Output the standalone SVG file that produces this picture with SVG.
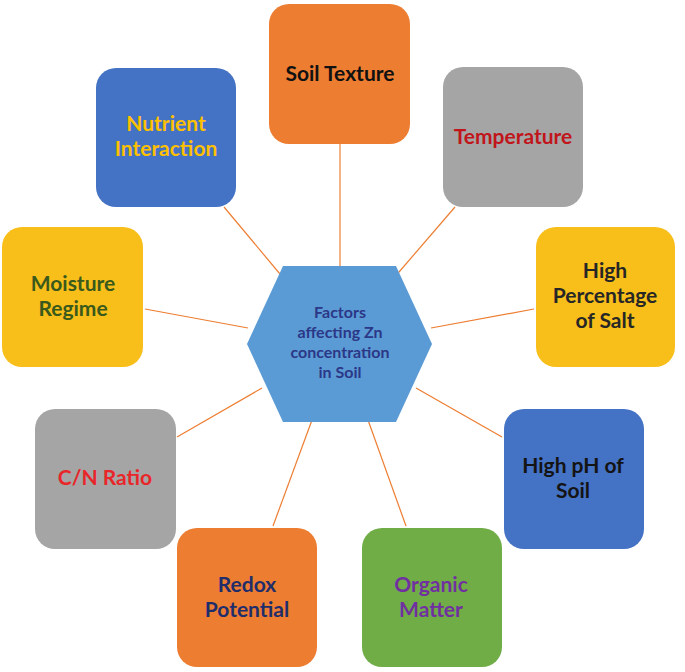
<svg xmlns="http://www.w3.org/2000/svg" width="685" height="672" viewBox="0 0 685 672">
<style>
text{font-family:Lato,"Open Sans","Liberation Sans",sans-serif;font-weight:bold;text-anchor:middle}
.lbl{font-size:21px}
.hx{font-size:16px;fill:#2B3787}
.con line{stroke:#ED7D31;stroke-width:1.2}
</style>
<rect width="685" height="672" fill="#fff"/>
<g id="connectors" class="con">
<line x1="340" y1="144" x2="340" y2="266"/>
<line x1="224" y1="207" x2="285" y2="280"/>
<line x1="455" y1="207" x2="393" y2="279"/>
<line x1="145" y1="309" x2="248" y2="328"/>
<line x1="534" y1="309" x2="431" y2="328"/>
<line x1="177" y1="437" x2="262" y2="388"/>
<line x1="416" y1="388" x2="502" y2="437"/>
<line x1="312" y1="420" x2="273" y2="526"/>
<line x1="368" y1="420" x2="406" y2="526"/>
</g>
<g id="center">
<polygon points="283,266 396,266 432,344 396,422 283,422 247,344" fill="#5B9BD5"/>
<text class="hx" x="340" y="318">Factors</text>
<text class="hx" x="340" y="338">affecting Zn</text>
<text class="hx" x="340" y="358">concentration</text>
<text class="hx" x="340" y="378">in Soil</text>
</g>
<g id="soil-texture">
<rect x="269" y="4" width="141" height="140" rx="20" fill="#ED7D31"/>
<text class="lbl" x="340" y="81" fill="#111">Soil Texture</text>
</g>
<g id="nutrient-interaction">
<rect x="96" y="68" width="140" height="139" rx="20" fill="#4472C4"/>
<text class="lbl" x="166" y="131" fill="#FFC000">Nutrient</text>
<text class="lbl" x="166" y="156" fill="#FFC000">Interaction</text>
</g>
<g id="temperature">
<rect x="443" y="67" width="140" height="140" rx="20" fill="#A5A5A5"/>
<text class="lbl" x="513" y="144" fill="#C0161B">Temperature</text>
</g>
<g id="moisture-regime">
<rect x="2" y="227" width="141" height="140" rx="20" fill="#F8BE1A"/>
<text class="lbl" x="73" y="291" fill="#3A5A1C">Moisture</text>
<text class="lbl" x="73" y="316" fill="#3A5A1C">Regime</text>
</g>
<g id="high-percentage-salt">
<rect x="536" y="227" width="139" height="140" rx="20" fill="#F8BE1A"/>
<text class="lbl" x="605" y="278" fill="#262626">High</text>
<text class="lbl" x="605" y="303" fill="#262626">Percentage</text>
<text class="lbl" x="605" y="328" fill="#262626">of Salt</text>
</g>
<g id="cn-ratio">
<rect x="35" y="409" width="141" height="140" rx="20" fill="#A5A5A5"/>
<text class="lbl" x="105" y="485" fill="#E8262A">C/N Ratio</text>
</g>
<g id="high-ph">
<rect x="504" y="409" width="140" height="140" rx="20" fill="#4472C4"/>
<text class="lbl" x="573" y="473" fill="#141414">High pH of</text>
<text class="lbl" x="573" y="498" fill="#141414">Soil</text>
</g>
<g id="redox-potential">
<rect x="177" y="528" width="140" height="139" rx="20" fill="#ED7D31"/>
<text class="lbl" x="247" y="592" fill="#1F2D6B">Redox</text>
<text class="lbl" x="247" y="617" fill="#1F2D6B">Potential</text>
</g>
<g id="organic-matter">
<rect x="362" y="528" width="140" height="139" rx="20" fill="#70AD47"/>
<text class="lbl" x="431" y="592" fill="#7030A0">Organic</text>
<text class="lbl" x="431" y="617" fill="#7030A0">Matter</text>
</g>
</svg>
